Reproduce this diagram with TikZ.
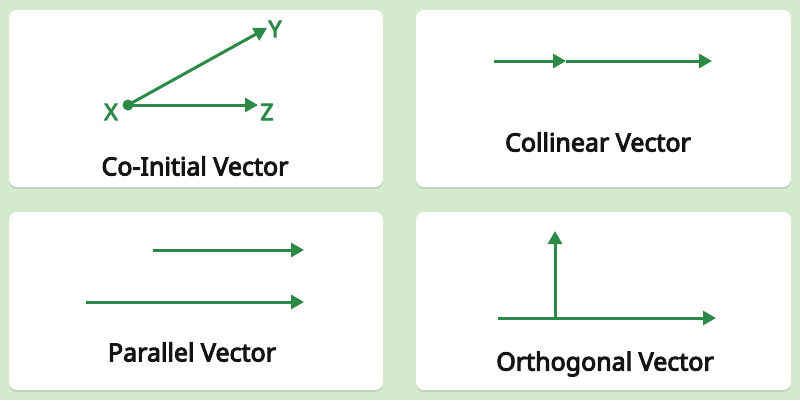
\documentclass[tikz,border=0pt]{standalone}
\usepackage{fontspec}
\setmainfont{Noto Sans}
\newfontfamily\semib{Noto Sans}[FakeBold=4]
\usetikzlibrary{arrows.meta,shadows}
\definecolor{bggreen}{RGB}{212,234,205}
\definecolor{vgreen}{RGB}{44,138,72}
\definecolor{txt}{RGB}{20,20,20}
\begin{document}
\begin{tikzpicture}[x=1pt,y=-1pt,
  panel/.style={fill=white,rounded corners=8pt,draw=none,
    drop shadow={shadow xshift=0pt,shadow yshift=-2pt,opacity=0.18,fill=black!60}},
  vec/.style={draw=vgreen,line width=3pt,-{Triangle[length=13pt,width=14pt]}},
  title/.style={font=\semib\fontsize{25}{28}\selectfont,text=txt,inner sep=0pt},
  lab/.style={font=\semib\fontsize{23}{26}\selectfont,text=vgreen,inner sep=0pt}]
\fill[bggreen] (0,0) rectangle (800,400);
\useasboundingbox (0,0) rectangle (800,400);
% panels
\path[panel] (9,10) rectangle (383,187);
\path[panel] (416,10) rectangle (791,187);
\path[panel] (9,212) rectangle (383,390);
\path[panel] (416,212) rectangle (791,390);
% Co-initial
\coordinate (X) at (128,105);
\coordinate (Yt) at (267,28);
\coordinate (Zt) at (258,105);
\fill[vgreen] (X) circle (5.5pt);
\draw[vec] (X) -- (Yt);
\draw[vec] (X) -- (Zt);
\node[lab] (xl) at (111,112) {X};
\node[lab] (yl) at (275,29) {Y};
\node[lab] (zl) at (267,112) {Z};
\node[title] (t1) at (195,166) {Co-Initial Vector};
% Collinear
\coordinate (c1) at (494,61);
\coordinate (c2) at (566,61);
\coordinate (c3) at (712,61);
\draw[vec] (c1) -- (c2);
\draw[vec] (c2) -- (c3);
\node[title] (t2) at (598,142) {Collinear Vector};
% Parallel
\coordinate (p1) at (153,250);
\coordinate (p2) at (304,250);
\coordinate (p3) at (86,302);
\coordinate (p4) at (304,302);
\draw[vec] (p1) -- (p2);
\draw[vec] (p3) -- (p4);
\node[title] (t3) at (192,352) {Parallel Vector};
% Orthogonal
\coordinate (o1) at (498,318);
\coordinate (o2) at (716,318);
\coordinate (o3) at (555,318);
\coordinate (o4) at (555,231);
\draw[vec] (o1) -- (o2);
\draw[vec] (o3) -- (o4);
\node[title] (t4) at (605,364) {Orthogonal Vector};
\end{tikzpicture}
\end{document}
